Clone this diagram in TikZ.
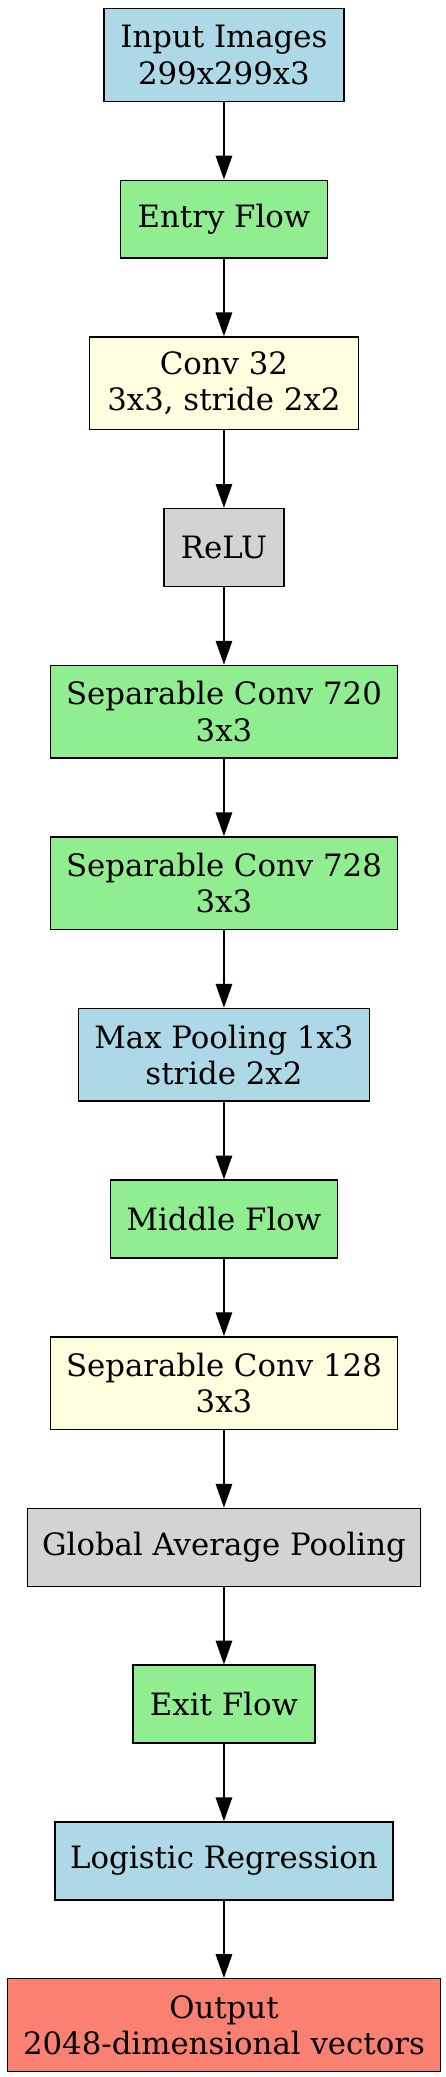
\documentclass[tikz,border=0pt]{standalone}
\usepackage{fontspec}
\setmainfont{DejaVu Serif}
\usetikzlibrary{positioning,arrows.meta}
\definecolor{lblue}{HTML}{ADD8E6}
\definecolor{lgreen}{HTML}{90EE90}
\definecolor{lyellow}{HTML}{FFFFE0}
\definecolor{lgray}{HTML}{D3D3D3}
\definecolor{lsalmon}{HTML}{FA8072}
\begin{document}
\begin{tikzpicture}[node distance=58.65pt,
	layer/.style={draw=black,line width=1.1pt,rectangle,align=center,inner sep=0pt,
		minimum height=58.9pt,font=\fontsize{23.3}{27.5}\selectfont},
	twoline/.style={layer,minimum height=70.1pt},
	flow/.style={-{Triangle[length=18pt,width=12.5pt]},line width=1pt}]
					
					\node[twoline,fill=lblue,minimum width=181.5pt] (in) at (0,0) {Input Images\\299x299x3};
					\node[layer,fill=lgreen,minimum width=156.75pt,below=of in] (entry) {Entry Flow};
					\node[twoline,fill=lyellow,minimum width=203.25pt,below=of entry] (conv) {Conv 32\\3x3, stride 2x2};
					\node[layer,fill=lgray,minimum width=90.75pt,below=of conv] (relu) {ReLU};
					\node[twoline,fill=lgreen,minimum width=262.5pt,below=of relu] (sepa) {Separable Conv 720\\3x3};
					\node[twoline,fill=lgreen,minimum width=262.5pt,below=of sepa] (sepb) {Separable Conv 728\\3x3};
					\node[twoline,fill=lblue,minimum width=220.5pt,below=of sepb] (maxp) {Max Pooling 1x3\\stride 2x2};
					\node[layer,fill=lgreen,minimum width=171.75pt,below=of maxp] (middle) {Middle Flow};
					\node[twoline,fill=lyellow,minimum width=262.5pt,below=of middle] (sepc) {Separable Conv 128\\3x3};
					\node[layer,fill=lgray,minimum width=297.75pt,below=of sepc] (gap) {Global Average Pooling};
					\node[layer,fill=lgreen,minimum width=138pt,below=of gap] (exit) {Exit Flow};
					\node[layer,fill=lblue,minimum width=255.75pt,below=of exit] (logreg) {Logistic Regression};
					\node[twoline,fill=lsalmon,minimum width=327.75pt,below=of logreg] (out) {Output\\2048-dimensional vectors};
					
					\foreach \a/\b in {in/entry,entry/conv,conv/relu,relu/sepa,sepa/sepb,sepb/maxp,maxp/middle,middle/sepc,sepc/gap,gap/exit,exit/logreg,logreg/out}{
						\draw[flow] (\a) -- (\b);
					}
					
					\useasboundingbox ([xshift=-169.5pt,yshift=6pt]in.north) rectangle ([xshift=168pt,yshift=-3.75pt]out.south);
				\end{tikzpicture}
\end{document}
